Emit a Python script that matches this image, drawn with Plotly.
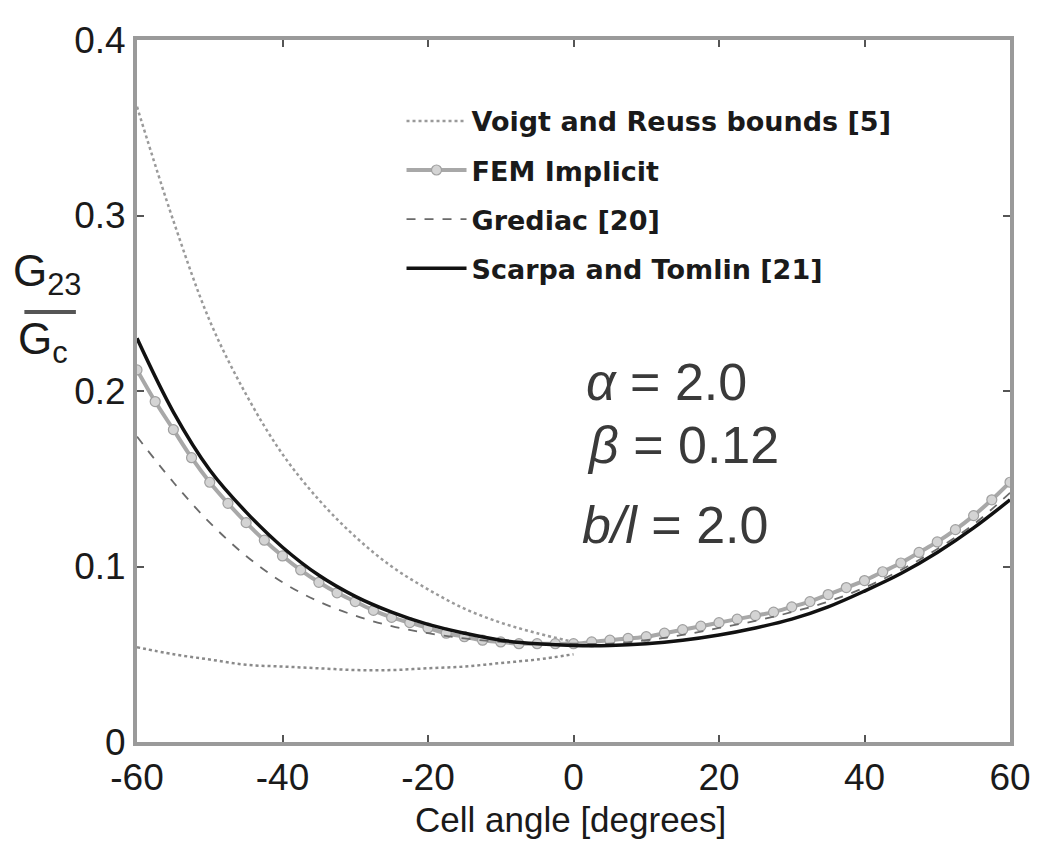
import plotly.graph_objects as go

# cell angle samples [degrees]
angle = [-60, -55, -50, -45, -40, -35, -30, -25, -20, -15, -10, -5, 0,
         5, 10, 15, 20, 25, 30, 35, 40, 45, 50, 55, 60]
angle_neg = [-60, -55, -50, -45, -40, -35, -30, -25, -20, -15, -10, -5, 0]
angle_fem = [-60, -57.5, -55, -52.5, -50, -47.5, -45, -42.5, -40, -37.5, -35,
             -32.5, -30, -27.5, -25, -22.5, -20, -17.5, -15, -12.5, -10, -7.5,
             -5, -2.5, 0, 2.5, 5, 7.5, 10, 12.5, 15, 17.5, 20, 22.5, 25, 27.5,
             30, 32.5, 35, 37.5, 40, 42.5, 45, 47.5, 50, 52.5, 55, 57.5, 60]

# G23/Gc
voigt_upper = [0.362, 0.297, 0.240, 0.198, 0.164, 0.138, 0.117, 0.100, 0.087,
               0.076, 0.068, 0.062, 0.057]
reuss_lower = [0.054, 0.050, 0.047, 0.044, 0.043, 0.042, 0.041, 0.041, 0.042,
               0.043, 0.045, 0.047, 0.050]
fem = [0.212, 0.194, 0.178, 0.162, 0.148, 0.136, 0.125, 0.115, 0.106, 0.098,
       0.091, 0.085, 0.080, 0.075, 0.071, 0.068, 0.065, 0.062, 0.060, 0.058,
       0.057, 0.056, 0.056, 0.056, 0.056, 0.057, 0.058, 0.059, 0.060, 0.062,
       0.064, 0.066, 0.068, 0.070, 0.072, 0.074, 0.077, 0.080, 0.084, 0.088,
       0.092, 0.097, 0.102, 0.108, 0.114, 0.121, 0.129, 0.138, 0.148]
grediac = [0.174, 0.148, 0.125, 0.106, 0.091, 0.080, 0.072, 0.066, 0.062,
           0.059, 0.057, 0.056, 0.056, 0.056, 0.058, 0.061, 0.065, 0.069,
           0.074, 0.080, 0.088, 0.098, 0.110, 0.124, 0.142]
scarpa = [0.230, 0.188, 0.155, 0.131, 0.111, 0.095, 0.083, 0.074, 0.067,
          0.062, 0.058, 0.056, 0.055, 0.055, 0.056, 0.058, 0.061, 0.065,
          0.070, 0.077, 0.086, 0.096, 0.108, 0.122, 0.138]

x_ticks = [-60, -40, -20, 0, 20, 40, 60]
x_tick_text = ["-60", "-40", "-20", "0", "20", "40", "60"]
y_ticks = [0, 0.1, 0.2, 0.3, 0.4]
y_tick_text = ["0", "0.1", "0.2", "0.3", "0.4"]

FONT = "Liberation Sans, Arial, sans-serif"

fig = go.Figure()

# bounds
fig.add_trace(go.Scatter(
    x=angle_neg, y=voigt_upper, mode="lines", name="Voigt and Reuss bounds [5]",
    legendgroup="bounds", line=dict(color="#9a9a9a", width=2.5, dash="dot",
                                    shape="spline"),
))
fig.add_trace(go.Scatter(
    x=angle_neg, y=reuss_lower, mode="lines", name="Voigt and Reuss bounds [5]",
    legendgroup="bounds", showlegend=False,
    line=dict(color="#8a8a8a", width=2.5, dash="dot", shape="spline"),
))

# FEM
fig.add_trace(go.Scatter(
    x=angle_fem, y=fem, mode="lines+markers", name="FEM Implicit",
    legendgroup="fem", line=dict(color="#a8a8a8", width=4, shape="spline"),
    marker=dict(symbol="circle", size=10, color="#d4d4d4",
                line=dict(color="#a0a0a0", width=1.2)),
))

# Grediac
fig.add_trace(go.Scatter(
    x=angle, y=grediac, mode="lines", name="Grediac [20]",
    legendgroup="grediac",
    line=dict(color="#6a6a6a", width=1.8, dash="dash", shape="spline"),
))

# Scarpa and Tomlin
fig.add_trace(go.Scatter(
    x=angle, y=scarpa, mode="lines", name="Scarpa and Tomlin [21]",
    legendgroup="scarpa", line=dict(color="#111111", width=3.5, shape="spline"),
))

axis_style = dict(
    showline=True, linecolor="#9a9a9a", linewidth=4, mirror="ticks",
    ticks="inside", ticklen=7, tickwidth=2, tickcolor="#555555",
    showgrid=False, zeroline=False,
    tickfont=dict(family=FONT, size=37, color="#1a1a1a"),
)

# page body adds 8px on each side, so the figure is 16px smaller than the window
fig.update_layout(
    width=1035, height=831,
    margin=dict(l=129, r=24, t=32, b=97),
    paper_bgcolor="white", plot_bgcolor="white",
    font=dict(family=FONT, color="#1a1a1a"),
    xaxis=dict(range=[-60, 60], tickvals=x_ticks, ticktext=x_tick_text,
               **axis_style),
    yaxis=dict(range=[0, 0.4], tickvals=y_ticks, ticktext=y_tick_text,
               **axis_style),
    legend=dict(
        x=0.303, y=0.919, xanchor="left", yanchor="top",
        bgcolor="rgba(0,0,0,0)", borderwidth=0,
        font=dict(family="DejaVu Sans, sans-serif", size=27, color="#1a1a1a",
                  weight="bold"),
        tracegroupgap=11, itemwidth=60,
    ),
    showlegend=True,
)

# x-axis title
fig.add_annotation(x=0.497, y=-0.110, xref="paper", yref="paper",
                   xanchor="center", yanchor="middle", showarrow=False,
                   text="Cell angle [degrees]",
                   font=dict(family=FONT, size=35, color="#1a1a1a"))

# parameter box text
fig.add_annotation(x=0.512, y=0.513, xref="paper", yref="paper",
                   xanchor="left", yanchor="middle", showarrow=False,
                   text="<i>α</i> = 2.0",
                   font=dict(family=FONT, size=52, color="#3a3a3a"))
fig.add_annotation(x=0.513, y=0.423, xref="paper", yref="paper",
                   xanchor="left", yanchor="middle", showarrow=False,
                   text="<i>β</i> = 0.12",
                   font=dict(family=FONT, size=52, color="#3a3a3a"))
fig.add_annotation(x=0.507, y=0.309, xref="paper", yref="paper",
                   xanchor="left", yanchor="middle", showarrow=False,
                   text="<i>b/l</i> = 2.0",
                   font=dict(family=FONT, size=52, color="#3a3a3a"))

# y-axis label as a fraction G23 / Gc
fig.add_annotation(x=-0.103, y=0.667, xref="paper", yref="paper",
                   xanchor="center", yanchor="middle", showarrow=False,
                   text="G<sub>23</sub>",
                   font=dict(family=FONT, size=44, color="#1a1a1a"))
fig.add_annotation(x=-0.108, y=0.570, xref="paper", yref="paper",
                   xanchor="center", yanchor="middle", showarrow=False,
                   text="G<sub>c</sub>",
                   font=dict(family=FONT, size=44, color="#1a1a1a"))
fig.add_shape(type="line", xref="paper", yref="paper",
              x0=-0.129, x1=-0.070, y0=0.6125, y1=0.6125,
              line=dict(color="#555555", width=4))

fig.write_html("out.html")
